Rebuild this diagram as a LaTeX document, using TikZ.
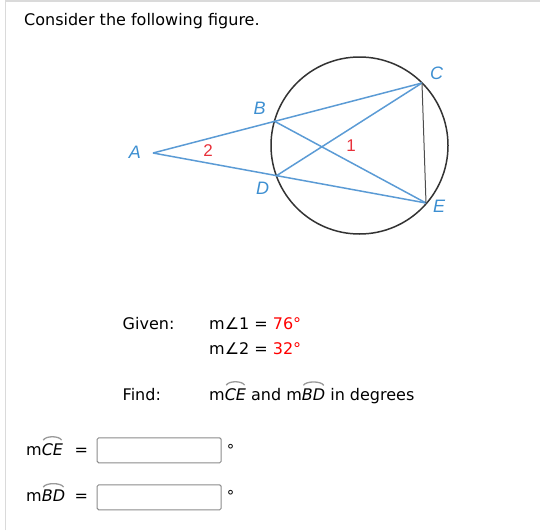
\documentclass[tikz,border=0pt]{standalone}
\usepackage{fontspec}
\setmainfont{DejaVu Sans}
\newfontfamily\labfont{Liberation Sans}
\definecolor{lineblue}{HTML}{5B9BD5}
\definecolor{labblue}{HTML}{3D8FD1}
\definecolor{numred}{HTML}{E8303A}
\definecolor{valred}{HTML}{FF0000}
\definecolor{framegray}{HTML}{DADADA}
\definecolor{boxgray}{HTML}{8A8A8A}
\definecolor{arcgray}{HTML}{9A9A9A}
\tikzset{
  arcline/.style={draw=arcgray,line width=1.3pt},
}
\newcommand{\arcover}[1]{\tikz[baseline=(t.base)]{\node[inner sep=0pt,outer sep=0pt](t){#1};\draw[arcline] ([xshift=1.5pt,yshift=3pt]t.north west) .. controls ([xshift=4pt,yshift=7.5pt]t.north west) and ([xshift=-4pt,yshift=7.5pt]t.north east) .. ([xshift=-1.5pt,yshift=3pt]t.north east);}}
\begin{document}
\begin{tikzpicture}[x=1pt,y=-1pt,
  txt/.style={anchor=base west,inner sep=0pt,font=\fontsize{16}{19}\selectfont},
  ptlab/.style={inner sep=0pt,text=labblue,font=\labfont\itshape\fontsize{18}{21}\selectfont},
  numlab/.style={inner sep=0pt,text=numred,font=\labfont\fontsize{17}{20}\selectfont},
  seg/.style={draw=lineblue,line width=1.5pt},
  ansbox/.style={draw=boxgray,line width=1pt,rounded corners=1.5pt,minimum width=124pt,minimum height=25pt,inner sep=0pt,anchor=north west},
  degmark/.style={inner sep=0pt,font=\fontsize{15}{17}\selectfont}
]
\useasboundingbox (0,0) rectangle (540,530);
% frame
\draw[framegray,line width=1.5pt] (5.5,530) -- (5.5,0.75) -- (540,0.75);
% header
\node[txt] (hdr) at (24,25) {Consider the following figure.};
% figure
\coordinate (O) at (359.5,145.5);
\draw[draw=black!80,line width=1.5pt] (O) circle[radius=88.5];
\coordinate (A) at (153,153);
\coordinate (B) at (274,121);
\coordinate (C) at (422,83);
\coordinate (D) at (276,176);
\coordinate (E) at (426,203);
\draw[seg] (A) -- (C);
\draw[seg] (A) -- (E);
\draw[seg] (B) -- (E);
\draw[seg] (D) -- (C);
\draw[draw=black!70,line width=1pt] (C) -- (E);
\node[ptlab] (lA) at (135,152.5) {A};
\node[ptlab] (lB) at (259.5,108.5) {B};
\node[ptlab] (lC) at (436.5,73.5) {C};
\node[ptlab] (lD) at (262.5,188) {D};
\node[ptlab] (lE) at (439,206) {E};
\node[numlab] (n2) at (208,151) {2};
\node[numlab] (n1) at (351,146) {1};
% given
\node[txt] (given) at (122.5,329.3) {Given:};
\node[txt] (g1) at (209,329.3) {m∠1 = \textcolor{valred}{76°}};
\node[txt] (g2) at (209,354.3) {m∠2 = \textcolor{valred}{32°}};
\node[txt] (find) at (122.5,400) {Find:};
\node[txt] (f1) at (209,400) {m\arcover{\textit{CE}} and m\arcover{\textit{BD}} in degrees};
% answers
\node[txt] (ace) at (26,455) {m\arcover{\textit{CE}}};
\node[txt] (eq1) at (74.5,455) {=};
\node[ansbox] (box1) at (96.7,437.3) {};
\node[degmark] (deg1) at (230.5,449.5) {°};
\node[txt] (abd) at (26,501.7) {m\arcover{\textit{BD}}};
\node[txt] (eq2) at (74.5,501.7) {=};
\node[ansbox] (box2) at (96.7,484.3) {};
\node[degmark] (deg2) at (230.5,496) {°};
\end{tikzpicture}
\end{document}
